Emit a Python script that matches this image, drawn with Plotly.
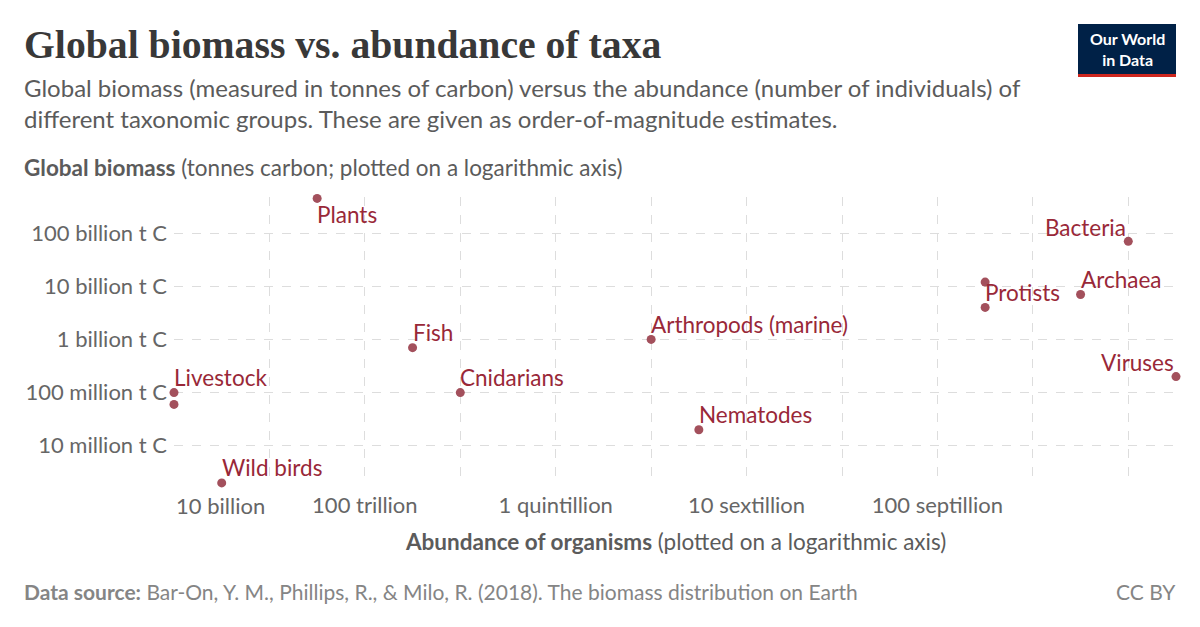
import math
import plotly.graph_objects as go

# ---- data (order-of-magnitude estimates) ----
taxa = ["Plants", "Bacteria", "Fungi", "Archaea", "Protists", "Arthropods (marine)",
        "Fish", "Viruses", "Cnidarians", "Livestock", "Humans", "Nematodes", "Wild birds"]
abundance = [1e13, 1e30, 1e27, 1e29, 1e27, 1e20,
             1e15, 1e31, 1e16, 1e10, 1e10, 1e21, 1e11]
biomass_tc = [4.5e11, 7e10, 1.2e10, 7e9, 4e9, 1e9,
              7e8, 2e8, 1e8, 1e8, 6e7, 2e7, 2e6]
show_label = [True, True, False, True, True, True,
              True, True, True, True, False, True, True]

x_tickvals = [1e10, 1e12, 1e14, 1e16, 1e18, 1e20, 1e22, 1e24, 1e26, 1e28, 1e30]
x_ticktext = ["10 billion", "", "100 trillion", "", "1 quintillion", "",
              "10 sextillion", "", "100 septillion", "", ""]
y_tickvals = [1e7, 1e8, 1e9, 1e10, 1e11]
y_ticktext = ["10 million t C", "100 million t C", "1 billion t C",
              "10 billion t C", "100 billion t C"]

# ---- layout geometry (page body has an 8px margin) ----
OFF = 8
W, H = 1200 - OFF, 627 - OFF
L, R, T, B = 174 - OFF, 24, 197 - OFF, 143
PW, PH = W - L - R, H - T - B

def px(x):
    return (x - OFF - L) / PW

def py(y):
    return (H - B - (y - OFF)) / PH

MARKER = "#a3505c"
LABEL = "#992838"
FONT = "Lato, 'Noto Sans', sans-serif"
TICKFONT = dict(family=FONT, size=22, color="#666666")

fig = go.Figure()
fig.add_trace(go.Scatter(
    x=abundance, y=biomass_tc, mode="markers", text=taxa,
    marker=dict(color=MARKER, size=9, line=dict(width=0)),
    hoverinfo="text", showlegend=False, cliponaxis=False,
))

annotations = []
# point labels (annotation coordinates on log axes are log10 values)
for name, xa, yb, show in zip(taxa, abundance, biomass_tc, show_label):
    if not show:
        continue
    if name == "Plants":
        xanchor, xshift, yshift = "left", -2, -16
    elif name in ("Bacteria", "Viruses"):
        xanchor, xshift, yshift = "right", 0, 14
    else:
        xanchor, xshift, yshift = "left", -2, 15
    annotations.append(dict(
        x=math.log10(xa), y=math.log10(yb), xref="x", yref="y", text=name, showarrow=False,
        xanchor=xanchor, yanchor="middle", xshift=xshift, yshift=yshift,
        font=dict(family=FONT, size=22.5, color=LABEL),
    ))

# first x tick label is kept inside the plot, left-aligned at its tick
x_ticktext_shown = [""] + x_ticktext[1:]
annotations.append(dict(
    x=math.log10(x_tickvals[0]), y=py(505), xref="x", yref="paper", text=x_ticktext[0],
    showarrow=False, xanchor="left", yanchor="middle", xshift=0, font=TICKFONT,
))

# title / subtitle / axis titles / footer
annotations += [
    dict(x=px(22), y=py(45), xref="paper", yref="paper", xanchor="left", yanchor="middle",
         text="<b>Global biomass vs. abundance of taxa</b>", showarrow=False,
         font=dict(family="'Liberation Serif', 'DejaVu Serif', serif", size=39.7, color="#383838")),
    dict(x=px(22), y=py(103), xref="paper", yref="paper", xanchor="left", yanchor="middle",
         align="left",
         text="Global biomass (measured in tonnes of carbon) versus the abundance (number of individuals) of<br>"
              "different taxonomic groups. These are given as order-of-magnitude estimates.",
         showarrow=False, font=dict(family=FONT, size=24, color="#5b5b5b")),
    dict(x=px(22), y=py(167), xref="paper", yref="paper", xanchor="left", yanchor="middle",
         text="<b>Global biomass</b> (tonnes carbon; plotted on a logarithmic axis)",
         showarrow=False, font=dict(family=FONT, size=22.5, color="#5b5b5b")),
    dict(x=px(675), y=py(541), xref="paper", yref="paper", xanchor="center", yanchor="middle",
         text="<b>Abundance of organisms</b> (plotted on a logarithmic axis)",
         showarrow=False, font=dict(family=FONT, size=22.5, color="#5b5b5b")),
    dict(x=px(22), y=py(591), xref="paper", yref="paper", xanchor="left", yanchor="middle",
         text="<b>Data source:</b> Bar-On, Y. M., Phillips, R., & Milo, R. (2018). The biomass distribution on Earth",
         showarrow=False, font=dict(family=FONT, size=21, color="#858585")),
    dict(x=px(1178), y=py(591), xref="paper", yref="paper", xanchor="right", yanchor="middle",
         text="CC BY", showarrow=False, font=dict(family=FONT, size=21, color="#858585")),
    dict(x=px(1127), y=py(49), xref="paper", yref="paper", xanchor="center", yanchor="middle",
         text="<b>Our World<br>in Data</b>", showarrow=False,
         font=dict(family=FONT, size=16, color="white")),
]

shapes = [
    dict(type="rect", xref="paper", yref="paper", x0=px(1078), x1=px(1176), y0=py(77), y1=py(24),
         fillcolor="#002147", line=dict(width=0), layer="above"),
    dict(type="rect", xref="paper", yref="paper", x0=px(1078), x1=px(1176), y0=py(77), y1=py(74),
         fillcolor="#ce261e", line=dict(width=0), layer="above"),
]

fig.update_layout(
    width=W, height=H,
    margin=dict(l=L, r=R, t=T, b=B, pad=0),
    paper_bgcolor="white", plot_bgcolor="white",
    annotations=annotations, shapes=shapes,
    font=dict(family=FONT),
    xaxis=dict(
        type="log", range=[10, 31], tickvals=x_tickvals, ticktext=x_ticktext_shown,
        showgrid=True, gridcolor="#dddddd", griddash="dash", gridwidth=1,
        zeroline=False, showline=False, ticks="", ticklabelstandoff=6,
        tickfont=TICKFONT,
    ),
    yaxis=dict(
        type="log", range=[6.28, 11.68], tickvals=y_tickvals, ticktext=y_ticktext,
        showgrid=True, gridcolor="#dddddd", griddash="dash", gridwidth=1,
        zeroline=False, showline=False, ticks="", ticklabelstandoff=6,
        tickfont=TICKFONT,
    ),
)

fig.write_html("out.html")
